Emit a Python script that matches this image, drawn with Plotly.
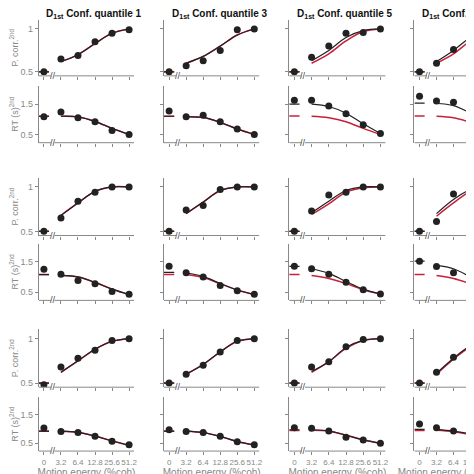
import plotly.graph_objects as go

coh_labels = ["0", "3.2", "6.4", "12.8", "25.6", "51.2"]
col_titles = ["D<sub>1st</sub> Conf. quantile 1", "D<sub>1st</sub> Conf. quantile 3",
              "D<sub>1st</sub> Conf. quantile 5", "D<sub>1st</sub> Conf. quantile 7"]

# data points (index 0 = 0% coh), per group -> per column
p_data = [
    [[0.5,0.65,0.69,0.85,0.95,0.99],[0.5,0.57,0.63,0.75,0.99,1.0],[0.5,0.67,0.80,0.95,0.96,1.0],[0.5,0.60,0.76,0.95,0.99,1.0]],
    [[0.5,0.65,0.84,0.94,1.0,1.0],[0.5,0.74,0.79,0.97,1.0,1.0],[0.5,0.73,0.91,0.94,1.0,1.0],[0.5,0.61,0.92,0.96,1.0,1.0]],
    [[0.48,0.68,0.78,0.87,0.98,1.0],[0.5,0.60,0.70,0.85,0.98,1.0],[0.5,0.68,0.74,0.91,0.99,1.0],[0.5,0.62,0.79,0.91,0.99,1.0]],
]
p_black = [
    [[0.62,0.70,0.83,0.95,1.0],[0.60,0.68,0.80,0.93,1.0],[0.63,0.75,0.90,0.98,1.0],[0.62,0.75,0.90,0.98,1.0]],
    [[0.68,0.82,0.95,1.0,1.0],[0.70,0.83,0.96,1.0,1.0],[0.71,0.84,0.96,1.0,1.0],[0.70,0.86,0.97,1.0,1.0]],
    [[0.62,0.75,0.88,0.97,1.0],[0.60,0.71,0.85,0.97,1.0],[0.63,0.74,0.90,0.98,1.0],[0.61,0.78,0.92,0.99,1.0]],
]
p_red = [
    [[0.62,0.70,0.83,0.95,1.0],[0.60,0.68,0.80,0.93,1.0],[0.60,0.71,0.86,0.97,1.0],[0.60,0.71,0.86,0.96,1.0]],
    [[0.68,0.82,0.95,1.0,1.0],[0.70,0.83,0.96,1.0,1.0],[0.69,0.81,0.94,0.99,1.0],[0.67,0.82,0.95,0.99,1.0]],
    [[0.62,0.75,0.88,0.97,1.0],[0.60,0.71,0.85,0.97,1.0],[0.62,0.74,0.89,0.98,1.0],[0.60,0.77,0.91,0.99,1.0]],
]
rt_data = [
    [[1.08,1.24,1.05,0.92,0.63,0.50],[1.27,1.08,1.13,0.92,0.68,0.50],[1.63,1.63,1.44,1.18,0.82,0.53],[1.76,1.60,1.56,1.15,0.80,0.55]],
    [[1.25,1.09,0.88,0.78,0.52,0.43],[1.35,1.14,1.00,0.72,0.55,0.43],[1.35,1.27,1.09,0.83,0.58,0.44],[1.52,1.34,1.14,0.93,0.65,0.48]],
    [[1.03,0.91,0.87,0.74,0.57,0.45],[0.97,0.91,0.87,0.74,0.55,0.45],[1.04,1.02,0.93,0.71,0.61,0.50],[1.17,1.04,0.93,0.86,0.70,0.50]],
]
rt_black = [
    [[1.10,1.08,0.93,0.70,0.50],[1.08,1.06,0.90,0.68,0.50],[1.50,1.42,1.20,0.85,0.53],[1.52,1.45,1.20,0.85,0.55]],
    [[1.05,1.00,0.82,0.60,0.42],[1.13,1.02,0.78,0.57,0.42],[1.27,1.12,0.85,0.60,0.44],[1.38,1.27,1.00,0.70,0.48]],
    [[0.92,0.88,0.75,0.58,0.43],[0.92,0.87,0.74,0.56,0.44],[0.97,0.93,0.78,0.62,0.50],[0.98,0.92,0.82,0.65,0.50]],
]
rt_red = [
    [[1.10,1.08,0.93,0.70,0.50],[1.08,1.06,0.90,0.68,0.50],[1.10,1.05,0.92,0.70,0.50],[1.10,1.05,0.90,0.70,0.50]],
    [[1.05,1.00,0.82,0.60,0.42],[1.08,0.98,0.78,0.57,0.42],[1.05,0.95,0.78,0.58,0.44],[1.05,0.95,0.78,0.58,0.44]],
    [[0.92,0.88,0.75,0.58,0.43],[0.92,0.87,0.74,0.56,0.44],[0.95,0.92,0.78,0.62,0.50],[0.95,0.90,0.80,0.62,0.50]],
]
p_zero_black = [[0.5]*4]*3
p_zero_red = [[0.5]*4]*3
rt_zero_black = [[1.10,1.10,1.50,1.53],[1.08,1.15,1.35,1.52],[0.92,0.92,0.97,0.98]]
rt_zero_red = [[1.10,1.10,1.11,1.11],[1.08,1.08,1.08,1.08],[0.92,0.92,0.94,0.94]]

W = H = 474
col_px = [(31, 127), (157, 253), (283, 380), (409, 474)]
row_px = [(12, 68), (78, 135), (170, 228), (236, 293), (322, 380), (390, 444)]
RED = "#c8203a"; BLK = "#222222"; GREY = "#888888"

fig = go.Figure()
layout = {}
shapes = []; annotations = []
n = 0
for g in range(3):
    for kind in range(2):
        r = g * 2 + kind
        for c in range(4):
            n += 1
            xa = "x" if n == 1 else f"x{n}"
            ya = "y" if n == 1 else f"y{n}"
            if kind == 0:
                dat, blk, red, zb, zr = p_data[g][c], p_black[g][c], p_red[g][c], p_zero_black[g][c], p_zero_red[g][c]
            else:
                dat, blk, red, zb, zr = rt_data[g][c], rt_black[g][c], rt_red[g][c], rt_zero_black[g][c], rt_zero_red[g][c]
            xs = list(range(1, 6))
            fig.add_trace(go.Scatter(x=[-0.3, 0.3], y=[zr, zr], mode="lines", line=dict(color=RED, width=1.5), xaxis=xa, yaxis=ya))
            fig.add_trace(go.Scatter(x=[-0.3, 0.3], y=[zb, zb], mode="lines", line=dict(color=BLK, width=1.2), xaxis=xa, yaxis=ya))
            fig.add_trace(go.Scatter(x=xs, y=red, mode="lines", line=dict(color=RED, width=1.5, shape="spline"), xaxis=xa, yaxis=ya))
            fig.add_trace(go.Scatter(x=xs, y=blk, mode="lines", line=dict(color=BLK, width=1.2, shape="spline"), xaxis=xa, yaxis=ya))
            fig.add_trace(go.Scatter(x=list(range(6)), y=dat, mode="markers", marker=dict(color=BLK, size=7), xaxis=xa, yaxis=ya))
            x0, x1 = col_px[c]
            y0, y1 = row_px[r]
            xr = [-0.3, 3.5] if c == 3 else [-0.3, 5.3]
            layout[xa.replace("x", "xaxis")] = dict(
                domain=[x0 / W, x1 / W], anchor=ya, range=xr, showline=False, showgrid=False, zeroline=False,
                tickmode="array", tickvals=list(range(6)),
                ticktext=coh_labels if r == 5 else [""] * 6, tickangle=0,
                ticks="outside", ticklen=3, tickcolor=GREY, tickfont=dict(size=8, color=GREY),
                title=dict(text="Motion energy (%coh)", font=dict(size=10, color=GREY), standoff=2) if r == 5 else None)
            if kind == 0:
                yr, tv, tt = [0.453, 1.105], [0.5, 1], ["0.5", "1"]
                yt = "P. corr.<sup>2nd</sup>"
            else:
                yr, tv, tt = [0.23, 2.1], [0.5, 1.5], ["0.5", "1.5"]
                yt = "RT (s)<sup>2nd</sup>"
            layout[ya.replace("y", "yaxis")] = dict(
                domain=[1 - y1 / H, 1 - y0 / H], anchor=xa, range=yr, showline=True, linecolor=GREY, linewidth=1,
                showgrid=False, zeroline=False, tickvals=tv, ticktext=tt if c == 0 else ["", ""],
                ticks="outside", ticklen=3, tickcolor=GREY, tickfont=dict(size=9, color=GREY),
                title=dict(text=yt, font=dict(size=9, color=GREY), standoff=0) if c == 0 else None)
            xref = xa; yref = ya + " domain"
            shapes.append(dict(type="line", xref=xref, yref=yref, x0=-0.3, x1=0.42, y0=0, y1=0, line=dict(color=GREY, width=1)))
            shapes.append(dict(type="line", xref=xref, yref=yref, x0=0.62, x1=xr[1], y0=0, y1=0, line=dict(color=GREY, width=1)))
            annotations.append(dict(text="//", xref=xref, yref=yref, x=0.52, y=0, showarrow=False,
                                    font=dict(size=9, color="#444"), yanchor="middle"))
for c in range(4):
    x0, x1 = col_px[c]
    cx = (x0 + 96 / 2 + 8) / W
    annotations.append(dict(text="<b>" + col_titles[c] + "</b>", xref="paper", yref="paper", x=cx, y=1 - 6 / H,
                            showarrow=False, font=dict(size=10, color="#111"), xanchor="center", yanchor="middle"))

fig.update_layout(width=W, height=H, margin=dict(l=0, r=0, t=0, b=0), plot_bgcolor="white",
                  paper_bgcolor="white", showlegend=False, shapes=shapes, annotations=annotations,
                  font=dict(family="Liberation Sans"), **layout)
fig.write_html("out.html")
